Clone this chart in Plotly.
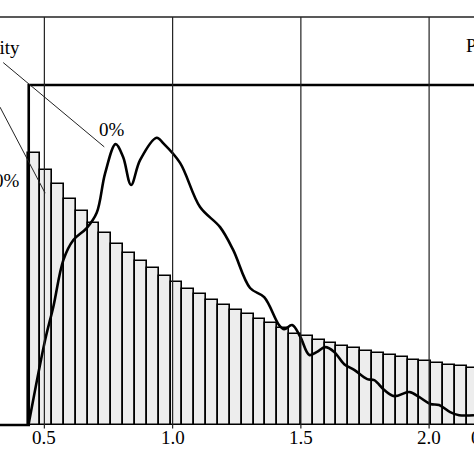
import plotly.graph_objects as go

bar_start = 0.4376
bar_width = 0.0462
bar_heights = [0.799,0.75,0.708,0.665,0.630,0.595,0.564,0.533,0.507,0.483,0.462,0.439,0.420,0.401,0.384,0.368,0.353,0.337,0.326,
               0.313,0.300,0.286,0.269,0.261,0.249,0.241,0.233,0.226,0.217,0.212,0.206,0.200,0.192,0.187,0.182,0.177,0.173,0.168]
bar_x = [bar_start + bar_width*(i+0.5) for i in range(len(bar_heights))]

curve_x = [0.438,0.503,0.535,0.574,0.613,0.665,0.704,0.737,0.778,0.807,0.838,0.873,0.938,0.963,1.029,1.107,1.185,1.236,1.302,1.357,1.415,1.435,1.466,1.498,1.533,1.563,1.595,1.630,1.669,1.708,1.759,1.786,1.825,1.864,1.923,1.962,2.005,2.039,2.082,2.117,2.175]
curve_y = [0,0.25,0.348,0.485,0.544,0.579,0.624,0.741,0.826,0.788,0.706,0.779,0.845,0.829,0.771,0.641,0.582,0.515,0.403,0.376,0.294,0.282,0.294,0.259,0.206,0.215,0.229,0.215,0.179,0.162,0.135,0.132,0.103,0.085,0.097,0.082,0.062,0.059,0.038,0.029,0.029]

step_x = [0.30, 0.439, 0.439, 2.3]
step_y = [0, 0, 1, 1]

grid_x = [0.5, 1.0, 1.5, 2.0]
tick_labels = ["0.5", "1.0", "1.5", "2.0"]
top_y = 1.2

fig = go.Figure()
fig.add_trace(go.Bar(x=bar_x, y=bar_heights, width=bar_width,
                     marker=dict(color="#ededed", line=dict(color="black", width=1.6)), showlegend=False))
fig.add_trace(go.Scatter(x=step_x, y=step_y, mode="lines", line=dict(color="black", width=2.6), showlegend=False))
fig.add_trace(go.Scatter(x=curve_x, y=curve_y, mode="lines", line=dict(color="black", width=2.6, shape="spline", smoothing=1.0), showlegend=False))

shapes = [dict(type="line", x0=0.2, x1=2.3, y0=top_y, y1=top_y, line=dict(color="#222", width=1.5), layer="above")]
for gx in grid_x:
    shapes.append(dict(type="line", x0=gx, x1=gx, y0=-0.01, y1=top_y, line=dict(color="#222", width=1.2), layer="above"))
shapes.append(dict(type="line", x0=0.3395, x1=0.7335, y0=1.066, y1=0.818, line=dict(color="#222", width=1)))
shapes.append(dict(type="line", x0=0.327, x1=0.503, y0=0.935, y1=0.682, line=dict(color="#222", width=1)))

font = dict(family="Liberation Serif", size=19, color="black")
ann = []
for gx, t in zip(grid_x, tick_labels):
    ann.append(dict(x=gx, y=-0.038, text=t, showarrow=False, font=font, xanchor="center", yanchor="middle"))
ann += [
    dict(x=0.413, y=1.11, text="ility", showarrow=False, font=font, xanchor="right", yanchor="middle"),
    dict(x=0.765, y=0.87, text="0%", showarrow=False, font=font, xanchor="center", yanchor="middle"),
    dict(x=0.413, y=0.72, text="0%", showarrow=False, font=font, xanchor="right", yanchor="middle"),
    dict(x=2.135, y=1.117, text="Pe", showarrow=False, font=font, xanchor="left", yanchor="middle"),
    dict(x=2.155, y=-0.038, text="0", showarrow=False, font=font, xanchor="left", yanchor="middle"),
]

fig.update_layout(width=474, height=474, margin=dict(l=0, r=0, t=0, b=0),
                  plot_bgcolor="white", paper_bgcolor="white", bargap=0,
                  xaxis=dict(range=[0.327, 2.175], visible=False),
                  yaxis=dict(range=[-0.144, 1.25], visible=False),
                  shapes=shapes, annotations=ann)
fig.write_html("out.html", config={"displayModeBar": False}, post_script="document.body.style.margin='0';")
